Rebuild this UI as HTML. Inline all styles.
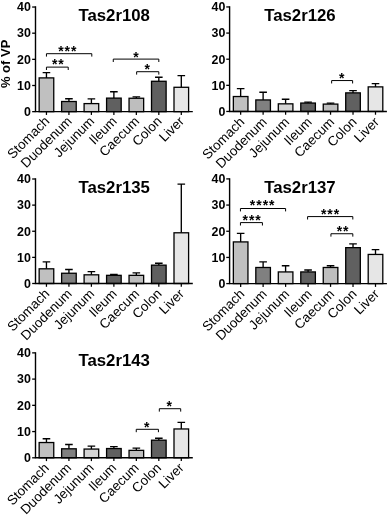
<!DOCTYPE html>
<html><head><meta charset="utf-8"><title>Tas2r expression</title>
<style>html,body{margin:0;padding:0;background:#fff}svg{display:block}</style></head>
<body>
<svg width="388" height="517" viewBox="0 0 388 517" font-family="'Liberation Sans', Arial, sans-serif">
<rect width="388" height="517" fill="#fff"/>
<path d="M46.45 77.89V72.67M42.65 72.67H50.25" stroke="#000" stroke-width="1.35" fill="none"/>
<rect x="39.15" y="77.89" width="14.6" height="33.76" fill="#c0c0c0" stroke="#000" stroke-width="1.3"/>
<path d="M46.45 111.65v3.3" stroke="#000" stroke-width="1.25"/>
<text x="50.15" y="122.10" font-size="13.4" text-anchor="end" fill="#000" transform="rotate(-45 50.15 122.10)">Stomach</text>
<path d="M68.93 101.51V98.77M65.13 98.77H72.73" stroke="#000" stroke-width="1.35" fill="none"/>
<rect x="61.63" y="101.51" width="14.6" height="10.14" fill="#808080" stroke="#000" stroke-width="1.3"/>
<path d="M68.93 111.65v3.3" stroke="#000" stroke-width="1.25"/>
<text x="72.63" y="122.10" font-size="13.4" text-anchor="end" fill="#000" transform="rotate(-45 72.63 122.10)">Duodenum</text>
<path d="M91.40 103.60V98.90M87.60 98.90H95.20" stroke="#000" stroke-width="1.35" fill="none"/>
<rect x="84.10" y="103.60" width="14.6" height="8.05" fill="#d4d4d4" stroke="#000" stroke-width="1.3"/>
<path d="M91.40 111.65v3.3" stroke="#000" stroke-width="1.25"/>
<text x="95.10" y="122.10" font-size="13.4" text-anchor="end" fill="#000" transform="rotate(-45 95.10 122.10)">Jejunum</text>
<path d="M113.88 98.12V91.72M110.08 91.72H117.68" stroke="#000" stroke-width="1.35" fill="none"/>
<rect x="106.58" y="98.12" width="14.6" height="13.53" fill="#606060" stroke="#000" stroke-width="1.3"/>
<path d="M113.88 111.65v3.3" stroke="#000" stroke-width="1.25"/>
<text x="117.58" y="122.10" font-size="13.4" text-anchor="end" fill="#000" transform="rotate(-45 117.58 122.10)">Ileum</text>
<path d="M136.35 98.25V96.81M132.55 96.81H140.15" stroke="#000" stroke-width="1.35" fill="none"/>
<rect x="129.05" y="98.25" width="14.6" height="13.40" fill="#bebebe" stroke="#000" stroke-width="1.3"/>
<path d="M136.35 111.65v3.3" stroke="#000" stroke-width="1.25"/>
<text x="140.05" y="122.10" font-size="13.4" text-anchor="end" fill="#000" transform="rotate(-45 140.05 122.10)">Caecum</text>
<path d="M158.82 81.28V77.24M155.02 77.24H162.62" stroke="#000" stroke-width="1.35" fill="none"/>
<rect x="151.52" y="81.28" width="14.6" height="30.37" fill="#606060" stroke="#000" stroke-width="1.3"/>
<path d="M158.82 111.65v3.3" stroke="#000" stroke-width="1.25"/>
<text x="162.52" y="122.10" font-size="13.4" text-anchor="end" fill="#000" transform="rotate(-45 162.52 122.10)">Colon</text>
<path d="M181.30 87.29V75.67M177.50 75.67H185.10" stroke="#000" stroke-width="1.35" fill="none"/>
<rect x="174.00" y="87.29" width="14.6" height="24.36" fill="#e6e6e6" stroke="#000" stroke-width="1.3"/>
<path d="M181.30 111.65v3.3" stroke="#000" stroke-width="1.25"/>
<text x="185.00" y="122.10" font-size="13.4" text-anchor="end" fill="#000" transform="rotate(-45 185.00 122.10)">Liver</text>
<path d="M35.50 6.34V111.65H192.80" stroke="#000" stroke-width="1.4" fill="none"/>
<path d="M32.15 111.65H35.50" stroke="#000" stroke-width="1.3"/>
<text x="30.80" y="115.95" font-size="12.4" font-weight="bold" text-anchor="end" fill="#000">0</text>
<path d="M32.15 85.50H35.50" stroke="#000" stroke-width="1.3"/>
<text x="30.80" y="89.80" font-size="12.4" font-weight="bold" text-anchor="end" fill="#000">10</text>
<path d="M32.15 59.35H35.50" stroke="#000" stroke-width="1.3"/>
<text x="30.80" y="63.65" font-size="12.4" font-weight="bold" text-anchor="end" fill="#000">20</text>
<path d="M32.15 33.19H35.50" stroke="#000" stroke-width="1.3"/>
<text x="30.80" y="37.49" font-size="12.4" font-weight="bold" text-anchor="end" fill="#000">30</text>
<path d="M32.15 7.04H35.50" stroke="#000" stroke-width="1.3"/>
<text x="30.80" y="11.34" font-size="12.4" font-weight="bold" text-anchor="end" fill="#000">40</text>
<text x="114.20" y="20.84" font-size="16.8" font-weight="bold" text-anchor="middle" fill="#000">Tas2r108</text>
<text x="10.3" y="63.90" font-size="13" font-weight="bold" text-anchor="middle" fill="#000" transform="rotate(-90 10.3 63.90)">% of VP</text>
<path d="M46.45 56.60V53.70H91.80V56.60" stroke="#000" stroke-width="1" fill="none"/>
<text x="67.81" y="55.50" font-size="14" font-weight="bold" letter-spacing="0.95" text-anchor="middle" fill="#000">***</text>
<path d="M46.45 70.01V67.11H68.23V70.01" stroke="#000" stroke-width="1" fill="none"/>
<text x="58.32" y="68.91" font-size="14" font-weight="bold" letter-spacing="0.95" text-anchor="middle" fill="#000">**</text>
<path d="M113.28 62.00V59.10H158.82V62.00" stroke="#000" stroke-width="1" fill="none"/>
<text x="136.53" y="62.30" font-size="14" font-weight="bold" letter-spacing="0.95" text-anchor="middle" fill="#000">*</text>
<path d="M136.65 74.61V71.71H158.82V74.61" stroke="#000" stroke-width="1" fill="none"/>
<text x="147.62" y="73.91" font-size="14" font-weight="bold" letter-spacing="0.95" text-anchor="middle" fill="#000">*</text>
<path d="M240.65 96.53V88.57M236.85 88.57H244.45" stroke="#000" stroke-width="1.35" fill="none"/>
<rect x="233.35" y="96.53" width="14.6" height="14.92" fill="#c0c0c0" stroke="#000" stroke-width="1.3"/>
<path d="M240.65 111.45v3.3" stroke="#000" stroke-width="1.25"/>
<text x="245.15" y="122.75" font-size="13.4" text-anchor="end" fill="#000" transform="rotate(-45 245.15 122.75)">Stomach</text>
<path d="M263.12 99.93V92.23M259.32 92.23H266.93" stroke="#000" stroke-width="1.35" fill="none"/>
<rect x="255.82" y="99.93" width="14.6" height="11.52" fill="#808080" stroke="#000" stroke-width="1.3"/>
<path d="M263.12 111.45v3.3" stroke="#000" stroke-width="1.25"/>
<text x="267.62" y="122.75" font-size="13.4" text-anchor="end" fill="#000" transform="rotate(-45 267.62 122.75)">Duodenum</text>
<path d="M285.60 103.84V99.27M281.80 99.27H289.40" stroke="#000" stroke-width="1.35" fill="none"/>
<rect x="278.30" y="103.84" width="14.6" height="7.61" fill="#d4d4d4" stroke="#000" stroke-width="1.3"/>
<path d="M285.60 111.45v3.3" stroke="#000" stroke-width="1.25"/>
<text x="290.10" y="122.75" font-size="13.4" text-anchor="end" fill="#000" transform="rotate(-45 290.10 122.75)">Jejunum</text>
<path d="M308.08 103.06V102.15M304.28 102.15H311.88" stroke="#000" stroke-width="1.35" fill="none"/>
<rect x="300.78" y="103.06" width="14.6" height="8.39" fill="#606060" stroke="#000" stroke-width="1.3"/>
<path d="M308.08 111.45v3.3" stroke="#000" stroke-width="1.25"/>
<text x="312.58" y="122.75" font-size="13.4" text-anchor="end" fill="#000" transform="rotate(-45 312.58 122.75)">Ileum</text>
<path d="M330.55 104.10V103.06M326.75 103.06H334.35" stroke="#000" stroke-width="1.35" fill="none"/>
<rect x="323.25" y="104.10" width="14.6" height="7.35" fill="#bebebe" stroke="#000" stroke-width="1.3"/>
<path d="M330.55 111.45v3.3" stroke="#000" stroke-width="1.25"/>
<text x="335.05" y="122.75" font-size="13.4" text-anchor="end" fill="#000" transform="rotate(-45 335.05 122.75)">Caecum</text>
<path d="M353.02 92.88V90.66M349.22 90.66H356.82" stroke="#000" stroke-width="1.35" fill="none"/>
<rect x="345.72" y="92.88" width="14.6" height="18.57" fill="#606060" stroke="#000" stroke-width="1.3"/>
<path d="M353.02 111.45v3.3" stroke="#000" stroke-width="1.25"/>
<text x="357.52" y="122.75" font-size="13.4" text-anchor="end" fill="#000" transform="rotate(-45 357.52 122.75)">Colon</text>
<path d="M375.50 86.88V83.61M371.70 83.61H379.30" stroke="#000" stroke-width="1.35" fill="none"/>
<rect x="368.20" y="86.88" width="14.6" height="24.57" fill="#e6e6e6" stroke="#000" stroke-width="1.3"/>
<path d="M375.50 111.45v3.3" stroke="#000" stroke-width="1.25"/>
<text x="380.00" y="122.75" font-size="13.4" text-anchor="end" fill="#000" transform="rotate(-45 380.00 122.75)">Liver</text>
<path d="M229.60 6.25V111.45H386.90" stroke="#000" stroke-width="1.4" fill="none"/>
<path d="M226.25 111.45H229.60" stroke="#000" stroke-width="1.3"/>
<text x="225.35" y="115.75" font-size="12.4" font-weight="bold" text-anchor="end" fill="#000">0</text>
<path d="M226.25 85.33H229.60" stroke="#000" stroke-width="1.3"/>
<text x="225.35" y="89.62" font-size="12.4" font-weight="bold" text-anchor="end" fill="#000">10</text>
<path d="M226.25 59.20H229.60" stroke="#000" stroke-width="1.3"/>
<text x="225.35" y="63.50" font-size="12.4" font-weight="bold" text-anchor="end" fill="#000">20</text>
<path d="M226.25 33.08H229.60" stroke="#000" stroke-width="1.3"/>
<text x="225.35" y="37.38" font-size="12.4" font-weight="bold" text-anchor="end" fill="#000">30</text>
<path d="M226.25 6.95H229.60" stroke="#000" stroke-width="1.3"/>
<text x="225.35" y="11.25" font-size="12.4" font-weight="bold" text-anchor="end" fill="#000">40</text>
<text x="299.90" y="20.75" font-size="16.8" font-weight="bold" text-anchor="middle" fill="#000">Tas2r126</text>
<path d="M331.65 83.46V80.56H352.62V83.46" stroke="#000" stroke-width="1" fill="none"/>
<text x="342.32" y="83.46" font-size="14" font-weight="bold" letter-spacing="0.95" text-anchor="middle" fill="#000">*</text>
<path d="M46.45 268.81V261.90M42.65 261.90H50.25" stroke="#000" stroke-width="1.35" fill="none"/>
<rect x="39.15" y="268.81" width="14.6" height="14.69" fill="#c0c0c0" stroke="#000" stroke-width="1.3"/>
<path d="M46.45 283.50v3.3" stroke="#000" stroke-width="1.25"/>
<text x="50.15" y="294.55" font-size="13.4" text-anchor="end" fill="#000" transform="rotate(-45 50.15 294.55)">Stomach</text>
<path d="M68.93 273.25V269.46M65.13 269.46H72.73" stroke="#000" stroke-width="1.35" fill="none"/>
<rect x="61.63" y="273.25" width="14.6" height="10.25" fill="#808080" stroke="#000" stroke-width="1.3"/>
<path d="M68.93 283.50v3.3" stroke="#000" stroke-width="1.25"/>
<text x="72.63" y="294.55" font-size="13.4" text-anchor="end" fill="#000" transform="rotate(-45 72.63 294.55)">Duodenum</text>
<path d="M91.40 274.82V271.55M87.60 271.55H95.20" stroke="#000" stroke-width="1.35" fill="none"/>
<rect x="84.10" y="274.82" width="14.6" height="8.68" fill="#d4d4d4" stroke="#000" stroke-width="1.3"/>
<path d="M91.40 283.50v3.3" stroke="#000" stroke-width="1.25"/>
<text x="95.10" y="294.55" font-size="13.4" text-anchor="end" fill="#000" transform="rotate(-45 95.10 294.55)">Jejunum</text>
<path d="M113.88 275.34V274.42M110.08 274.42H117.68" stroke="#000" stroke-width="1.35" fill="none"/>
<rect x="106.58" y="275.34" width="14.6" height="8.16" fill="#606060" stroke="#000" stroke-width="1.3"/>
<path d="M113.88 283.50v3.3" stroke="#000" stroke-width="1.25"/>
<text x="117.58" y="294.55" font-size="13.4" text-anchor="end" fill="#000" transform="rotate(-45 117.58 294.55)">Ileum</text>
<path d="M136.35 275.34V272.86M132.55 272.86H140.15" stroke="#000" stroke-width="1.35" fill="none"/>
<rect x="129.05" y="275.34" width="14.6" height="8.16" fill="#bebebe" stroke="#000" stroke-width="1.3"/>
<path d="M136.35 283.50v3.3" stroke="#000" stroke-width="1.25"/>
<text x="140.05" y="294.55" font-size="13.4" text-anchor="end" fill="#000" transform="rotate(-45 140.05 294.55)">Caecum</text>
<path d="M158.82 265.16V263.20M155.02 263.20H162.62" stroke="#000" stroke-width="1.35" fill="none"/>
<rect x="151.52" y="265.16" width="14.6" height="18.34" fill="#606060" stroke="#000" stroke-width="1.3"/>
<path d="M158.82 283.50v3.3" stroke="#000" stroke-width="1.25"/>
<text x="162.52" y="294.55" font-size="13.4" text-anchor="end" fill="#000" transform="rotate(-45 162.52 294.55)">Colon</text>
<path d="M181.30 232.79V184.12M177.50 184.12H185.10" stroke="#000" stroke-width="1.35" fill="none"/>
<rect x="174.00" y="232.79" width="14.6" height="50.71" fill="#e6e6e6" stroke="#000" stroke-width="1.3"/>
<path d="M181.30 283.50v3.3" stroke="#000" stroke-width="1.25"/>
<text x="185.00" y="294.55" font-size="13.4" text-anchor="end" fill="#000" transform="rotate(-45 185.00 294.55)">Liver</text>
<path d="M35.50 178.30V283.50H192.80" stroke="#000" stroke-width="1.4" fill="none"/>
<path d="M32.15 283.50H35.50" stroke="#000" stroke-width="1.3"/>
<text x="30.80" y="287.80" font-size="12.4" font-weight="bold" text-anchor="end" fill="#000">0</text>
<path d="M32.15 257.38H35.50" stroke="#000" stroke-width="1.3"/>
<text x="30.80" y="261.68" font-size="12.4" font-weight="bold" text-anchor="end" fill="#000">10</text>
<path d="M32.15 231.25H35.50" stroke="#000" stroke-width="1.3"/>
<text x="30.80" y="235.55" font-size="12.4" font-weight="bold" text-anchor="end" fill="#000">20</text>
<path d="M32.15 205.12H35.50" stroke="#000" stroke-width="1.3"/>
<text x="30.80" y="209.43" font-size="12.4" font-weight="bold" text-anchor="end" fill="#000">30</text>
<path d="M32.15 179.00H35.50" stroke="#000" stroke-width="1.3"/>
<text x="30.80" y="183.30" font-size="12.4" font-weight="bold" text-anchor="end" fill="#000">40</text>
<text x="114.20" y="192.80" font-size="16.8" font-weight="bold" text-anchor="middle" fill="#000">Tas2r135</text>
<path d="M240.65 241.91V233.43M236.85 233.43H244.45" stroke="#000" stroke-width="1.35" fill="none"/>
<rect x="233.35" y="241.91" width="14.6" height="41.69" fill="#c0c0c0" stroke="#000" stroke-width="1.3"/>
<path d="M240.65 283.60v3.3" stroke="#000" stroke-width="1.25"/>
<text x="245.15" y="294.75" font-size="13.4" text-anchor="end" fill="#000" transform="rotate(-45 245.15 294.75)">Stomach</text>
<path d="M263.12 267.49V261.88M259.32 261.88H266.93" stroke="#000" stroke-width="1.35" fill="none"/>
<rect x="255.82" y="267.49" width="14.6" height="16.11" fill="#808080" stroke="#000" stroke-width="1.3"/>
<path d="M263.12 283.60v3.3" stroke="#000" stroke-width="1.25"/>
<text x="267.62" y="294.75" font-size="13.4" text-anchor="end" fill="#000" transform="rotate(-45 267.62 294.75)">Duodenum</text>
<path d="M285.60 271.93V265.79M281.80 265.79H289.40" stroke="#000" stroke-width="1.35" fill="none"/>
<rect x="278.30" y="271.93" width="14.6" height="11.67" fill="#d4d4d4" stroke="#000" stroke-width="1.3"/>
<path d="M285.60 283.60v3.3" stroke="#000" stroke-width="1.25"/>
<text x="290.10" y="294.75" font-size="13.4" text-anchor="end" fill="#000" transform="rotate(-45 290.10 294.75)">Jejunum</text>
<path d="M308.08 271.93V269.97M304.28 269.97H311.88" stroke="#000" stroke-width="1.35" fill="none"/>
<rect x="300.78" y="271.93" width="14.6" height="11.67" fill="#606060" stroke="#000" stroke-width="1.3"/>
<path d="M308.08 283.60v3.3" stroke="#000" stroke-width="1.25"/>
<text x="312.58" y="294.75" font-size="13.4" text-anchor="end" fill="#000" transform="rotate(-45 312.58 294.75)">Ileum</text>
<path d="M330.55 267.49V265.79M326.75 265.79H334.35" stroke="#000" stroke-width="1.35" fill="none"/>
<rect x="323.25" y="267.49" width="14.6" height="16.11" fill="#bebebe" stroke="#000" stroke-width="1.3"/>
<path d="M330.55 283.60v3.3" stroke="#000" stroke-width="1.25"/>
<text x="335.05" y="294.75" font-size="13.4" text-anchor="end" fill="#000" transform="rotate(-45 335.05 294.75)">Caecum</text>
<path d="M353.02 247.65V243.87M349.22 243.87H356.82" stroke="#000" stroke-width="1.35" fill="none"/>
<rect x="345.72" y="247.65" width="14.6" height="35.95" fill="#606060" stroke="#000" stroke-width="1.3"/>
<path d="M353.02 283.60v3.3" stroke="#000" stroke-width="1.25"/>
<text x="357.52" y="294.75" font-size="13.4" text-anchor="end" fill="#000" transform="rotate(-45 357.52 294.75)">Colon</text>
<path d="M375.50 254.44V249.61M371.70 249.61H379.30" stroke="#000" stroke-width="1.35" fill="none"/>
<rect x="368.20" y="254.44" width="14.6" height="29.16" fill="#e6e6e6" stroke="#000" stroke-width="1.3"/>
<path d="M375.50 283.60v3.3" stroke="#000" stroke-width="1.25"/>
<text x="380.00" y="294.75" font-size="13.4" text-anchor="end" fill="#000" transform="rotate(-45 380.00 294.75)">Liver</text>
<path d="M229.60 178.20V283.60H386.90" stroke="#000" stroke-width="1.4" fill="none"/>
<path d="M226.25 283.60H229.60" stroke="#000" stroke-width="1.3"/>
<text x="225.35" y="287.90" font-size="12.4" font-weight="bold" text-anchor="end" fill="#000">0</text>
<path d="M226.25 257.43H229.60" stroke="#000" stroke-width="1.3"/>
<text x="225.35" y="261.73" font-size="12.4" font-weight="bold" text-anchor="end" fill="#000">10</text>
<path d="M226.25 231.25H229.60" stroke="#000" stroke-width="1.3"/>
<text x="225.35" y="235.55" font-size="12.4" font-weight="bold" text-anchor="end" fill="#000">20</text>
<path d="M226.25 205.07H229.60" stroke="#000" stroke-width="1.3"/>
<text x="225.35" y="209.38" font-size="12.4" font-weight="bold" text-anchor="end" fill="#000">30</text>
<path d="M226.25 178.90H229.60" stroke="#000" stroke-width="1.3"/>
<text x="225.35" y="183.20" font-size="12.4" font-weight="bold" text-anchor="end" fill="#000">40</text>
<text x="299.90" y="192.70" font-size="16.8" font-weight="bold" text-anchor="middle" fill="#000">Tas2r137</text>
<path d="M240.45 211.40V208.50H285.60V211.40" stroke="#000" stroke-width="1" fill="none"/>
<text x="262.66" y="210.30" font-size="14" font-weight="bold" letter-spacing="0.95" text-anchor="middle" fill="#000">****</text>
<path d="M240.45 225.50V222.60H262.43V225.50" stroke="#000" stroke-width="1" fill="none"/>
<text x="252.12" y="224.80" font-size="14" font-weight="bold" letter-spacing="0.95" text-anchor="middle" fill="#000">***</text>
<path d="M307.58 219.49V216.59H352.82V219.49" stroke="#000" stroke-width="1" fill="none"/>
<text x="330.48" y="218.59" font-size="14" font-weight="bold" letter-spacing="0.95" text-anchor="middle" fill="#000">***</text>
<path d="M330.95 236.64V233.74H352.82V236.64" stroke="#000" stroke-width="1" fill="none"/>
<text x="343.12" y="236.04" font-size="14" font-weight="bold" letter-spacing="0.95" text-anchor="middle" fill="#000">**</text>
<path d="M46.45 442.53V438.75M42.65 438.75H50.25" stroke="#000" stroke-width="1.35" fill="none"/>
<rect x="39.15" y="442.53" width="14.6" height="15.27" fill="#c0c0c0" stroke="#000" stroke-width="1.3"/>
<path d="M46.45 457.80v3.3" stroke="#000" stroke-width="1.25"/>
<text x="49.75" y="468.65" font-size="13.4" text-anchor="end" fill="#000" transform="rotate(-45 49.75 468.65)">Stomach</text>
<path d="M68.93 448.80V444.49M65.13 444.49H72.73" stroke="#000" stroke-width="1.35" fill="none"/>
<rect x="61.63" y="448.80" width="14.6" height="9.00" fill="#808080" stroke="#000" stroke-width="1.3"/>
<path d="M68.93 457.80v3.3" stroke="#000" stroke-width="1.25"/>
<text x="72.23" y="468.65" font-size="13.4" text-anchor="end" fill="#000" transform="rotate(-45 72.23 468.65)">Duodenum</text>
<path d="M91.40 449.06V446.06M87.60 446.06H95.20" stroke="#000" stroke-width="1.35" fill="none"/>
<rect x="84.10" y="449.06" width="14.6" height="8.74" fill="#d4d4d4" stroke="#000" stroke-width="1.3"/>
<path d="M91.40 457.80v3.3" stroke="#000" stroke-width="1.25"/>
<text x="94.70" y="468.65" font-size="13.4" text-anchor="end" fill="#000" transform="rotate(-45 94.70 468.65)">Jejunum</text>
<path d="M113.88 448.54V446.58M110.08 446.58H117.68" stroke="#000" stroke-width="1.35" fill="none"/>
<rect x="106.58" y="448.54" width="14.6" height="9.26" fill="#606060" stroke="#000" stroke-width="1.3"/>
<path d="M113.88 457.80v3.3" stroke="#000" stroke-width="1.25"/>
<text x="117.18" y="468.65" font-size="13.4" text-anchor="end" fill="#000" transform="rotate(-45 117.18 468.65)">Ileum</text>
<path d="M136.35 450.36V448.15M132.55 448.15H140.15" stroke="#000" stroke-width="1.35" fill="none"/>
<rect x="129.05" y="450.36" width="14.6" height="7.44" fill="#bebebe" stroke="#000" stroke-width="1.3"/>
<path d="M136.35 457.80v3.3" stroke="#000" stroke-width="1.25"/>
<text x="139.65" y="468.65" font-size="13.4" text-anchor="end" fill="#000" transform="rotate(-45 139.65 468.65)">Caecum</text>
<path d="M158.82 440.19V438.23M155.02 438.23H162.62" stroke="#000" stroke-width="1.35" fill="none"/>
<rect x="151.52" y="440.19" width="14.6" height="17.62" fill="#606060" stroke="#000" stroke-width="1.3"/>
<path d="M158.82 457.80v3.3" stroke="#000" stroke-width="1.25"/>
<text x="162.12" y="468.65" font-size="13.4" text-anchor="end" fill="#000" transform="rotate(-45 162.12 468.65)">Colon</text>
<path d="M181.30 428.96V422.31M177.50 422.31H185.10" stroke="#000" stroke-width="1.35" fill="none"/>
<rect x="174.00" y="428.96" width="14.6" height="28.84" fill="#e6e6e6" stroke="#000" stroke-width="1.3"/>
<path d="M181.30 457.80v3.3" stroke="#000" stroke-width="1.25"/>
<text x="184.60" y="468.65" font-size="13.4" text-anchor="end" fill="#000" transform="rotate(-45 184.60 468.65)">Liver</text>
<path d="M35.50 352.17V457.80H192.80" stroke="#000" stroke-width="1.4" fill="none"/>
<path d="M32.15 457.80H35.50" stroke="#000" stroke-width="1.3"/>
<text x="30.80" y="462.10" font-size="12.4" font-weight="bold" text-anchor="end" fill="#000">0</text>
<path d="M32.15 431.57H35.50" stroke="#000" stroke-width="1.3"/>
<text x="30.80" y="435.87" font-size="12.4" font-weight="bold" text-anchor="end" fill="#000">10</text>
<path d="M32.15 405.34H35.50" stroke="#000" stroke-width="1.3"/>
<text x="30.80" y="409.64" font-size="12.4" font-weight="bold" text-anchor="end" fill="#000">20</text>
<path d="M32.15 379.10H35.50" stroke="#000" stroke-width="1.3"/>
<text x="30.80" y="383.40" font-size="12.4" font-weight="bold" text-anchor="end" fill="#000">30</text>
<path d="M32.15 352.87H35.50" stroke="#000" stroke-width="1.3"/>
<text x="30.80" y="357.17" font-size="12.4" font-weight="bold" text-anchor="end" fill="#000">40</text>
<text x="114.20" y="365.77" font-size="16.8" font-weight="bold" text-anchor="middle" fill="#000">Tas2r143</text>
<path d="M136.25 432.20V429.30H158.42V432.20" stroke="#000" stroke-width="1" fill="none"/>
<text x="147.22" y="432.35" font-size="14" font-weight="bold" letter-spacing="0.95" text-anchor="middle" fill="#000">*</text>
<path d="M159.32 411.61V408.71H180.70V411.61" stroke="#000" stroke-width="1" fill="none"/>
<text x="169.74" y="411.26" font-size="14" font-weight="bold" letter-spacing="0.95" text-anchor="middle" fill="#000">*</text>
</svg>
</body></html>
